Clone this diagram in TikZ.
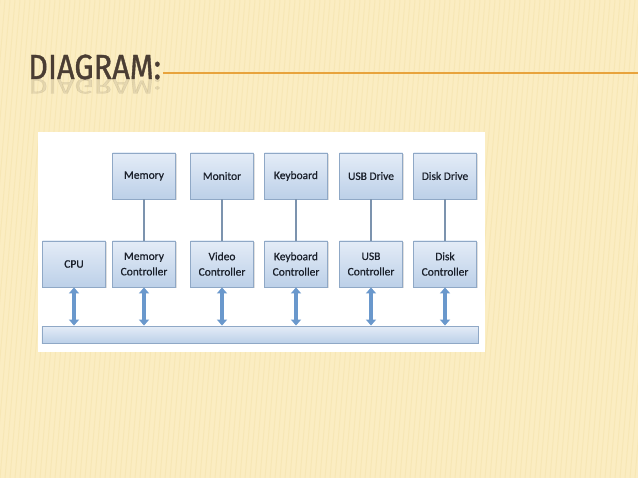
\documentclass[tikz,border=0pt]{standalone}
\usepackage{fontspec}
\setmainfont{Carlito}
\newfontfamily\boxfont{Carlito}[FakeBold=0.7]
\newfontfamily\titlefont{Fira Sans}[FakeBold=1.2]
\usetikzlibrary{arrows.meta,shadows}
\definecolor{slidebg}{HTML}{FBEDC2}
\definecolor{stripecol}{HTML}{F4E0A6}
\definecolor{titlecol}{HTML}{4A3D33}
\definecolor{rulecol}{HTML}{E8A33C}
\definecolor{boxtop}{HTML}{E4ECF7}
\definecolor{boxbot}{HTML}{BCD0E8}
\definecolor{boxline}{HTML}{8FA8C6}
\definecolor{boxtext}{HTML}{1A202B}
\definecolor{linkgray}{HTML}{7C93AE}
\definecolor{arrowblue}{HTML}{6A98CC}
\begin{document}
\begin{tikzpicture}[x=1bp,y=-1bp,
  box/.style={draw=boxline, line width=0.9bp, top color=boxtop, bottom color=boxbot,
    minimum width=63bp, minimum height=46bp, align=center, text=boxtext,
    font=\boxfont\fontsize{11.5}{15.5}\selectfont,
    drop shadow={opacity=0.25, shadow xshift=1.2bp, shadow yshift=-1.2bp}},
  link/.style={draw=linkgray, line width=1.5bp},
  busarrow/.style={draw=arrowblue, line width=4bp,
    {Triangle[width=10bp,length=6bp]}-{Triangle[width=10bp,length=6bp]}}]
\useasboundingbox (0,0) rectangle (638,478);
% slide background
\fill[slidebg] (0,0) rectangle (638,478);
\foreach \i in {0,5,...,680}
  \draw[stripecol, line width=1bp, opacity=0.45] (\i,0) -- (\i-40,478);
% title
\node[anchor=base west, inner sep=0pt, text=titlecol] (title) at (28,79)
  {\scalebox{0.88}[1]{\titlefont\fontsize{35}{35}\selectfont DIAGRAM:}};
\node[anchor=base west, inner sep=0pt, text=titlecol, opacity=0.12] (mirror) at (28,79)
  {\scalebox{0.88}[-0.6]{\titlefont\fontsize{35}{35}\selectfont DIAGRAM:}};
\coordinate (rulend) at (638,73);
\draw[rulecol, line width=1.3bp] (title.east |- rulend) ++(2,0) -- (rulend);
% panel
\fill[white] (38,132) rectangle (485,352);
% devices
\node[box] (mem) at (144,176) {Memory};
\node[box] (mon) at (222,176) {Monitor};
\node[box] (kbd) at (296,176) {Keyboard};
\node[box] (usb) at (371,176) {USB Drive};
\node[box] (disk) at (445,176) {Disk Drive};
% controllers
\node[box] (cpu) at (74,264) {CPU};
\node[box] (memctl) at (144,264) {Memory\\Controller};
\node[box] (vidctl) at (222,264) {Video\\Controller};
\node[box] (kbdctl) at (296,264) {Keyboard\\Controller};
\node[box] (usbctl) at (371,264) {USB\\Controller};
\node[box] (diskctl) at (445,264) {Disk\\Controller};
% bus
\node[box, minimum width=436bp, minimum height=17bp] (bus) at (260,334.5) {};
\path[link] (mem) -- (memctl);
\path[link] (mon) -- (vidctl);
\path[link] (kbd) -- (kbdctl);
\path[link] (usb) -- (usbctl);
\path[link] (disk) -- (diskctl);
\foreach \c in {cpu,memctl,vidctl,kbdctl,usbctl,diskctl}
  \path[busarrow] (\c.south) -- (\c.south |- bus.north);
\end{tikzpicture}
\end{document}
